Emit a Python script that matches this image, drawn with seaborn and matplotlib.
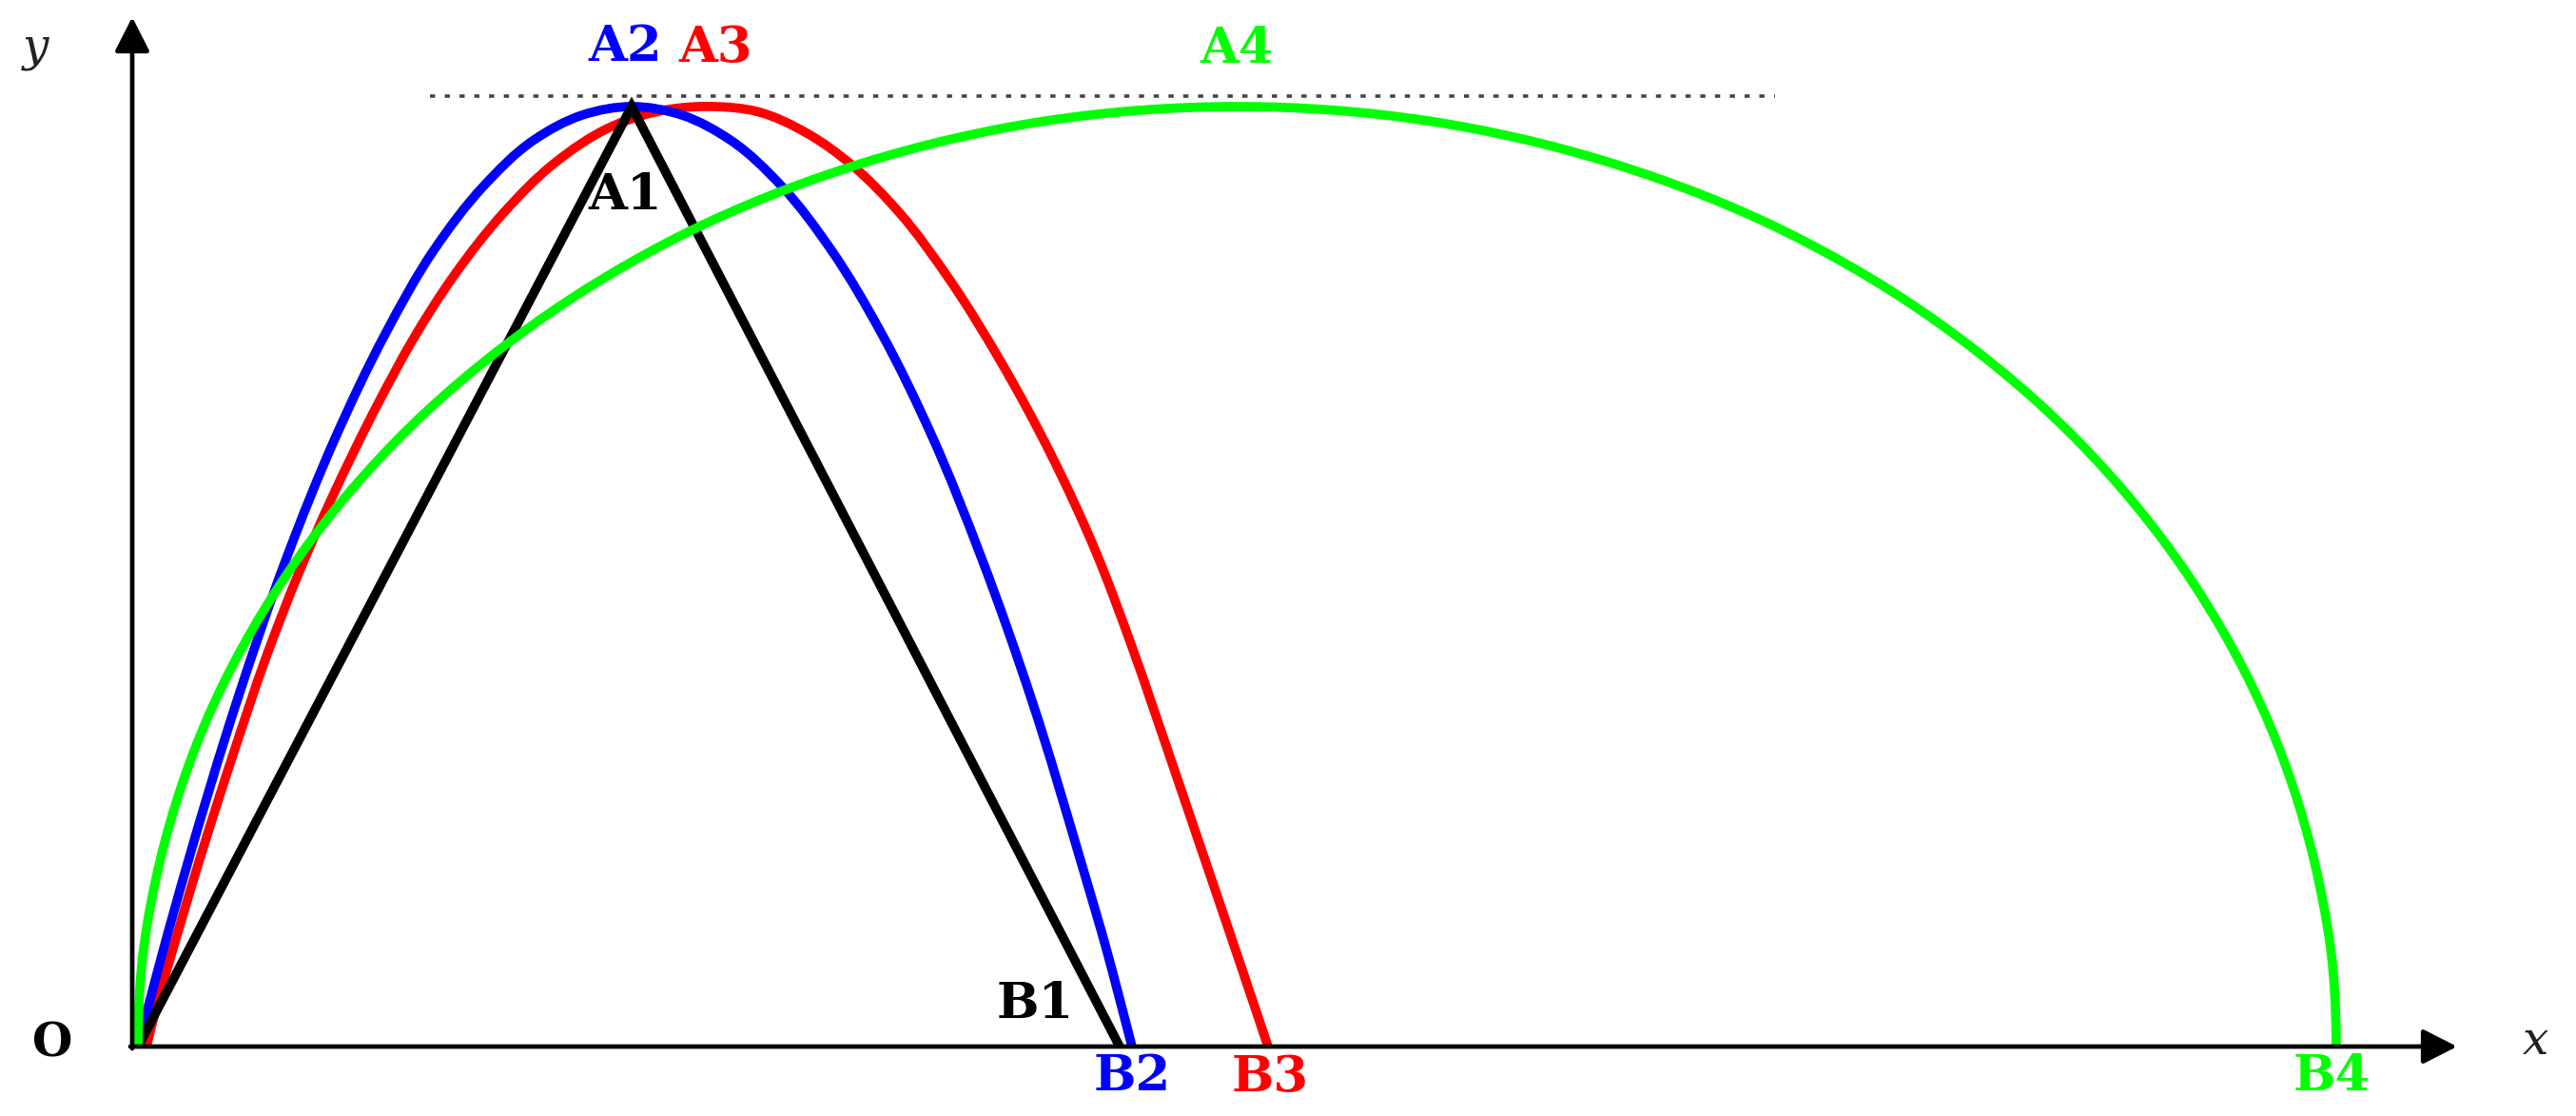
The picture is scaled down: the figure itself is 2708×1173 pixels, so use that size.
import numpy as np
import pandas as pd
import matplotlib
matplotlib.use("Agg")
import matplotlib.pyplot as plt
from matplotlib.path import Path
from matplotlib.patches import PathPatch
import seaborn as sns

# ---- data (x: horizontal distance from O, h: height above the x axis) ----
path1_x = [0, 519, 1032]
path1_h = [0, 988, 0]

path2_x = [0, 13, 26, 52, 104, 156, 208, 260, 311, 363, 415, 467, 519,
           572, 624, 677, 729, 782, 835, 887, 940, 992, 1019, 1032, 1045]
path2_h = [0, 50, 99, 192, 363, 513, 641, 749, 837, 904, 952, 979, 988,
           979, 952, 904, 837, 749, 641, 513, 363, 192, 99, 50, 0]

path3_x = [9, 19, 39, 69, 101, 135, 170, 204, 253, 289, 332, 385, 436, 498, 558, 606,
           650, 705, 750, 800, 854, 907, 961, 1007, 1045, 1083, 1117, 1151, 1188]
path3_h = [0, 40, 110, 210, 310, 410, 500, 577, 677, 743, 810, 877, 927, 967, 985, 988,
           983, 959, 927, 877, 805, 720, 620, 520, 420, 310, 210, 110, 0]

path4_x = [0, 1, 4, 18, 70, 155, 270, 413, 578, 760, 955, 1156,
           1356, 1551, 1733, 1898, 2041, 2156, 2241, 2293, 2307, 2310, 2311]
path4_h = [0, 43, 86, 172, 338, 494, 635, 757, 856, 928, 973, 988,
           973, 928, 856, 757, 635, 494, 338, 172, 86, 43, 0]

top_level = 999
top_span = [307, 1721]

labels = ["A1", "A2", "A3", "A4", "B1", "B2", "B3", "B4"]
label_x = [512, 512, 607, 1155, 943, 1045, 1190, 2306]
label_h = [894, 1050, 1050, 1048, 45, -32, -32, -32]
label_col = ["black", "#0000FF", "#FF0000", "#00FF00", "black", "#0000FF", "#FF0000", "#00FF00"]

# ---- figure ----
sns.set_theme(style="white")
plt.rcParams["font.family"] = ["DejaVu Serif", "DejaVu Sans"]

W, H = 2708, 1173
fig = plt.figure(figsize=(W / 100, H / 100), dpi=100)
ax = fig.add_axes([0, 0, 1, 1])
ax.set_xlim(-145, W - 145)
ax.set_ylim(1100 - H, 1100)
ax.axis("off")

LW = 7.0


def smooth_path(xy):
    """Smooth cubic (chord-length Hermite) Bezier path through the vertices."""
    p = np.asarray(xy, dtype=float)
    n = len(p)
    seg = p[1:] - p[:-1]
    d = np.hypot(seg[:, 0], seg[:, 1])
    u = seg / d[:, None]
    m = np.zeros_like(p)
    m[0] = u[0]
    m[-1] = u[-1]
    for i in range(1, n - 1):
        a, b = d[i - 1], d[i]
        m[i] = (u[i] * a + u[i - 1] * b) / (a + b)
    verts = [p[0]]
    codes = [Path.MOVETO]
    for i in range(n - 1):
        c1 = p[i] + m[i] * d[i] / 3.0
        c2 = p[i + 1] - m[i + 1] * d[i] / 3.0
        verts += [c1, c2, p[i + 1]]
        codes += [Path.CURVE4] * 3
    return Path(verts, codes)


def draw_curve(xs, hs, color, smooth=True, z=2):
    sns.lineplot(x=xs, y=hs, sort=False, estimator=None, color=color,
                 lw=LW, ax=ax, legend=False)
    line = ax.lines[-1]
    line.set_solid_joinstyle("miter")
    line.set_solid_capstyle("butt")
    line.set_zorder(z)
    if smooth:
        patch = PathPatch(smooth_path(line.get_xydata()), facecolor="none",
                          edgecolor=color, lw=LW, capstyle="butt",
                          joinstyle="round", zorder=z, transform=ax.transData)
        ax.add_patch(patch)
        line.set_visible(False)


draw_curve(path3_x, path3_h, "#FF0000", z=2)
draw_curve(path2_x, path2_h, "#0000FF", z=3)
draw_curve(path1_x, path1_h, "black", smooth=False, z=4)
draw_curve(path4_x, path4_h, "#00FF00", z=5)

# dotted reference line at the common maximum height
ax.plot(top_span, [top_level, top_level], color="#444444", lw=2.6,
        linestyle=(0, (1.5, 2.8)), solid_capstyle="butt", zorder=1)

# axes with arrows
arrow = dict(arrowstyle="-|>,head_length=0.55,head_width=0.28", color="black",
             lw=3.4, shrinkA=0, shrinkB=0, mutation_scale=40)
ax.annotate("", xy=(-6, 1082), xytext=(-6, -2), arrowprops=arrow, zorder=6)
ax.annotate("", xy=(2438, 0), xytext=(-8, 0), arrowprops=arrow, zorder=6)

# labels
for t, x, h, c in zip(labels, label_x, label_h, label_col):
    ax.text(x, h, t, color=c, fontsize=38, fontweight="bold", ha="center",
            va="center", family="DejaVu Serif", zorder=7)
ax.text(-90, 3, "O", color="black", fontsize=35, fontweight="bold", ha="center",
        va="center", family="DejaVu Serif")
ax.text(-107, 1050, "y", color="#222222", fontsize=35, style="italic", ha="center",
        va="center", family="DejaVu Serif")
ax.text(2521, 5, "x", color="#222222", fontsize=35, style="italic", ha="center",
        va="center", family="DejaVu Serif")

fig.savefig("out.png", dpi=100)
